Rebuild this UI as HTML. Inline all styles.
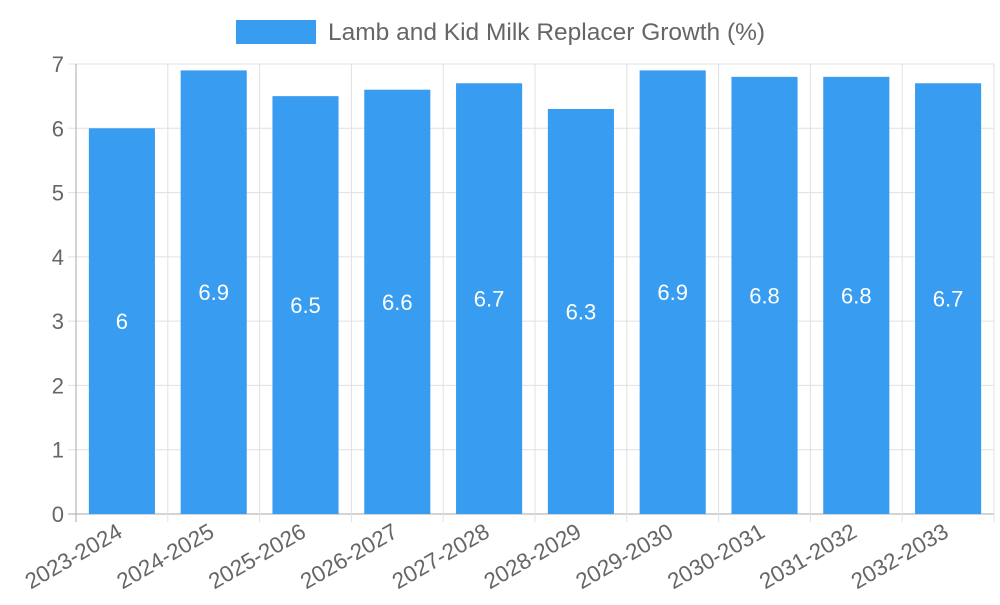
<!DOCTYPE html>
<html><head><meta charset="utf-8"><style>
body{margin:0;background:#fff;width:1000px;height:600px;overflow:hidden}
svg{font-family:"Liberation Sans",sans-serif}
</style></head><body>
<svg id="chart" width="1000" height="600">
<g>
<rect x="236" y="20" width="80" height="24" fill="#389cf0"/>
<text x="328" y="40" font-size="24.5" fill="#666">Lamb and Kid Milk Replacer Growth (%)</text>
</g>
<g id="grid"></g><g id="bars"></g><g id="axes"></g>
</svg>
<script>
const categories=["2023-2024","2024-2025","2025-2026","2026-2027","2027-2028","2028-2029","2029-2030","2030-2031","2031-2032","2032-2033"];
const values=[6,6.9,6.5,6.6,6.7,6.3,6.9,6.8,6.8,6.7];
const yTicks=[0,1,2,3,4,5,6,7];
const L=76,R=994,T=64,B=514,yMax=7;
const band=(R-L)/categories.length;
const x=i=>L+i*band;
const y=v=>B-(v/yMax)*(B-T);
const NS="http://www.w3.org/2000/svg";
function mk(t,a,p){const e=document.createElementNS(NS,t);for(const k in a)e.setAttribute(k,a[k]);p.appendChild(e);return e;}
const g=document.getElementById('grid'),b=document.getElementById('bars'),ax=document.getElementById('axes');
yTicks.forEach(t=>{
 const l=mk('line',{x1:L-8,x2:R,y1:y(t),y2:y(t),stroke:t===0?'#aaa':'#e0e0e0','stroke-width':1},g);
 
 
 const tx=mk('text',{x:L-12,y:y(t)+8,'text-anchor':'end','font-size':22,fill:'#666'},ax);
 tx.textContent=t;
 
 
});
for(let i=0;i<=categories.length;i++){
 const l=mk('line',{x1:x(i),x2:x(i),y1:T,y2:B+8,stroke:i===0?'#aaa':'#e0e0e0','stroke-width':1},g);
 
 
}
categories.forEach((c,i)=>{
 const bw=band*0.72,bx=x(i)+(band-bw)/2;
 const r=mk('rect',{x:bx,y:y(values[i]),width:bw,height:B-y(values[i]),fill:'#389cf0'},b);
 
 
 const v=mk('text',{x:bx+bw/2,y:(y(values[i])+B)/2+8,'text-anchor':'middle','font-size':22,fill:'#fff'},b);
 v.textContent=values[i];
 
 
 const cx=x(i)+band/2+2,cy=B+22;
 const t=mk('text',{x:cx,y:cy,'text-anchor':'end','font-size':22.5,fill:'#666',transform:`rotate(-30 ${cx} ${cy})`},ax);
 t.textContent=c;
 
 
});
</script>
</body></html>
